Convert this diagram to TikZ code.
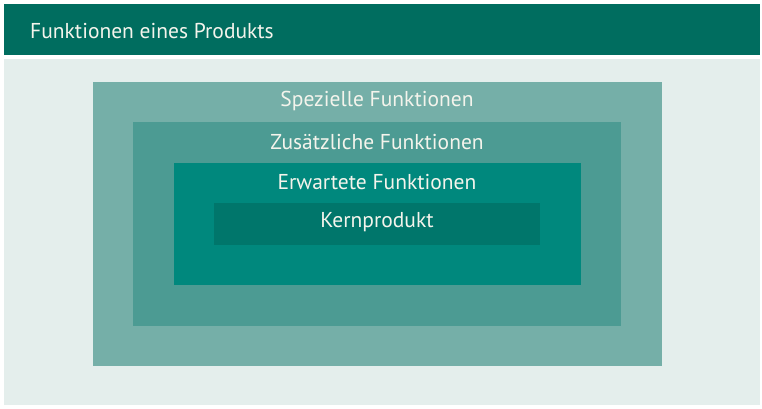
\documentclass[tikz,border=0pt]{standalone}
\usepackage{fontspec}
\setmainfont{PT Sans}
\usepackage{xcolor}
\usetikzlibrary{positioning}
\definecolor{headgreen}{HTML}{006D5F}
\definecolor{panelgrey}{HTML}{E4EEEC}
\definecolor{speziell}{HTML}{75AFA8}
\definecolor{zusatz}{HTML}{4C9B93}
\definecolor{erwartet}{HTML}{00887D}
\definecolor{kern}{HTML}{00766B}
\definecolor{textwhite}{HTML}{F4F4EC}

\begin{document}
\begin{tikzpicture}[x=1pt, y=-1pt,
    layer/.style={inner sep=0pt, outer sep=0pt, draw=none},
    caption/.style={text=textwhite, font=\fontsize{21.5}{24}\selectfont, inner sep=0pt}]
    \useasboundingbox (0,0) rectangle (762,409);

    \node [layer, fill=headgreen, minimum width=756pt, minimum height=51pt] (head) at (382,29.5) {};
    \node [caption, anchor=west] (headtext) at ([xshift=26pt, yshift=-1.5pt]head.west) {Funktionen eines Produkts};

    \node [layer, fill=panelgrey, minimum width=756pt, minimum height=346pt] (panel) at (382,232) {};

    % verschachtelte Funktionsebenen
    \node [layer, fill=speziell, minimum width=569pt, minimum height=284pt] (spez) at (377,224) {};
    \node [caption] (speztext) at ([yshift=-19pt]spez.north) {Spezielle Funktionen};

    \node [layer, fill=zusatz, minimum width=488pt, minimum height=204pt] (zus) at (spez.center) {};
    \node [caption] (zustext) at ([yshift=-20pt]zus.north) {Zusätzliche Funktionen};

    \node [layer, fill=erwartet, minimum width=407pt, minimum height=122pt] (erw) at (spez.center) {};
    \node [caption] (erwtext) at ([yshift=-19pt]erw.north) {Erwartete Funktionen};

    \node [layer, fill=kern, minimum width=326pt, minimum height=42pt] (kern) at (spez.center) {};
    \node [caption] (kerntext) at ([yshift=2pt]kern.center) {Kernprodukt};

\end{tikzpicture}
\end{document}
